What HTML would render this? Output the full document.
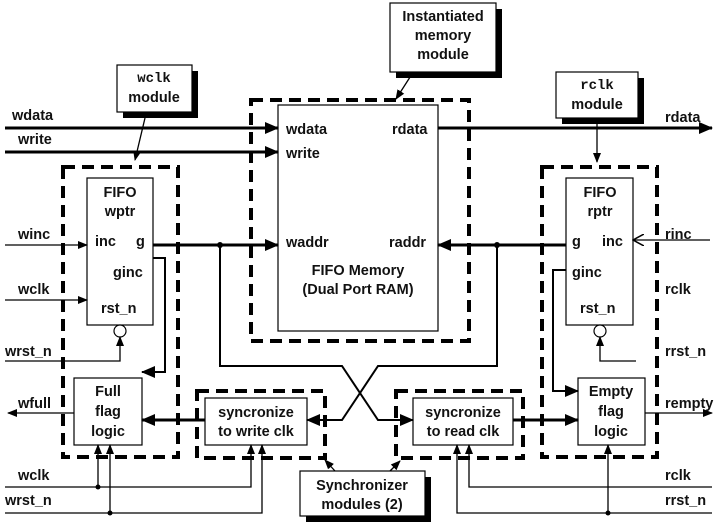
<!DOCTYPE html>
<html><head><meta charset="utf-8"><style>
html,body{margin:0;padding:0;background:#fff}
svg{display:block}
text{font-family:"Liberation Sans",Arial,sans-serif;font-weight:bold;font-size:14.5px;fill:#111}
.m{font-family:"Liberation Mono",monospace;font-weight:bold;font-size:14px}
</style></head><body>
<svg width="720" height="530" viewBox="0 0 720 530" xmlns="http://www.w3.org/2000/svg">
<defs>
<marker id="a" markerWidth="10" markerHeight="10" refX="9" refY="5" orient="auto" markerUnits="userSpaceOnUse"><path d="M0,1 L10,5 L0,9 z" fill="#000"/></marker>
<marker id="b" markerWidth="14" markerHeight="12" refX="13" refY="6" orient="auto" markerUnits="userSpaceOnUse"><path d="M0,0 L14,6 L0,12 z" fill="#000"/></marker>
<marker id="o" markerWidth="12" markerHeight="12" refX="11" refY="6" orient="auto" markerUnits="userSpaceOnUse"><path d="M0,0 L11,6 L0,12" fill="none" stroke="#000" stroke-width="1.5"/></marker>
</defs>
<g fill="none" stroke="#000">
<g stroke-width="4" stroke-dasharray="12,7">
<rect x="251" y="100" width="218" height="241"/>
<rect x="63" y="167" width="115" height="290"/>
<rect x="542" y="167" width="115" height="290"/>
<rect x="197" y="391" width="128" height="67"/>
<rect x="396" y="391" width="127" height="67"/>
</g>
<g fill="#000" stroke="none">
<rect x="123" y="71" width="75" height="47"/>
<rect x="396" y="9" width="106" height="69"/>
<rect x="562" y="78" width="82" height="46"/>
<rect x="306" y="477" width="125" height="45"/>
</g>
<g fill="#fff" stroke-width="1.2">
<rect x="117" y="65" width="75" height="47"/>
<rect x="390" y="3" width="106" height="69"/>
<rect x="556" y="72" width="82" height="46"/>
<rect x="300" y="471" width="125" height="45"/>
<rect x="278" y="105" width="160" height="226"/>
<rect x="87" y="178" width="66" height="147"/>
<rect x="566" y="178" width="67" height="147"/>
<rect x="74" y="378" width="68" height="67"/>
<rect x="578" y="378" width="67" height="67"/>
<rect x="205" y="398" width="102" height="47"/>
<rect x="413" y="398" width="100" height="47"/>
</g>
<circle cx="120" cy="331" r="6" fill="#fff" stroke-width="1.2"/>
<circle cx="600" cy="331" r="6" fill="#fff" stroke-width="1.2"/>
<g stroke-width="3">
<line x1="5" y1="128" x2="278" y2="128" marker-end="url(#b)"/>
<line x1="5" y1="152" x2="278" y2="152" marker-end="url(#b)"/>
<line x1="438" y1="128" x2="712" y2="128" marker-end="url(#b)"/>
<line x1="153" y1="245" x2="278" y2="245" marker-end="url(#b)"/>
<line x1="566" y1="245" x2="438" y2="245" marker-end="url(#b)"/>
<line x1="205" y1="420" x2="142" y2="420" marker-end="url(#b)"/>
<line x1="513" y1="420" x2="578" y2="420" marker-end="url(#b)"/>
</g>
<g stroke-width="2">
<polyline points="220,245 220,366 342,366 378,420 413,420" marker-end="url(#b)"/>
<polyline points="497,245 497,366 378,366 342,420 307,420" marker-end="url(#b)"/>
<polyline points="153,258 165,258 165,372 142,372" marker-end="url(#b)"/>
<polyline points="566,270 553,270 553,391 578,391" marker-end="url(#b)"/>
</g>
<g stroke-width="1.3">
<line x1="5" y1="245" x2="87" y2="245" marker-end="url(#a)"/>
<line x1="5" y1="300" x2="87" y2="300" marker-end="url(#a)"/>
<polyline points="5,361 120,361 120,337" marker-end="url(#a)"/>
<line x1="74" y1="413" x2="8" y2="413" marker-end="url(#a)"/>
<line x1="710" y1="240" x2="633" y2="240" marker-end="url(#o)"/>
<polyline points="636,361 600,361 600,337" marker-end="url(#a)"/>
<line x1="645" y1="413" x2="712" y2="413" marker-end="url(#a)"/>
<polyline points="5,487 251,487 251,445" marker-end="url(#a)"/>
<polyline points="5,513 262,513 262,445" marker-end="url(#a)"/>
<line x1="98" y1="487" x2="98" y2="445" marker-end="url(#a)"/>
<line x1="110" y1="513" x2="110" y2="445" marker-end="url(#a)"/>
<polyline points="712,487 469,487 469,445" marker-end="url(#a)"/>
<polyline points="712,513 457,513 457,445" marker-end="url(#a)"/>
<line x1="608" y1="513" x2="608" y2="445" marker-end="url(#a)"/>
<line x1="145" y1="118" x2="135" y2="160" marker-end="url(#a)"/>
<line x1="412" y1="74" x2="396" y2="99" marker-end="url(#a)"/>
<line x1="597" y1="124" x2="597" y2="162" marker-end="url(#a)"/>
<line x1="335" y1="471" x2="325" y2="460" marker-end="url(#a)"/>
<line x1="390" y1="471" x2="400" y2="461" marker-end="url(#a)"/>
</g>
<g fill="#000" stroke="none">
<circle cx="220" cy="245" r="3"/><circle cx="497" cy="245" r="3"/>
<circle cx="98" cy="487" r="2.5"/><circle cx="110" cy="513" r="2.5"/>
<circle cx="608" cy="513" r="2.5"/>
</g>
</g>
<text x="12" y="120">wdata</text>
<text x="18" y="144">write</text>
<text x="665" y="122">rdata</text>
<text x="154" y="82" class="m" text-anchor="middle">wclk</text>
<text x="154" y="102" text-anchor="middle">module</text>
<text x="597" y="89" class="m" text-anchor="middle">rclk</text>
<text x="597" y="109" text-anchor="middle">module</text>
<text x="443" y="21" text-anchor="middle">Instantiated</text>
<text x="443" y="40" text-anchor="middle">memory</text>
<text x="443" y="59" text-anchor="middle">module</text>
<text x="286" y="134">wdata</text>
<text x="392" y="134">rdata</text>
<text x="286" y="158">write</text>
<text x="286" y="247">waddr</text>
<text x="389" y="247">raddr</text>
<text x="358" y="275" text-anchor="middle">FIFO Memory</text>
<text x="358" y="294" text-anchor="middle">(Dual Port RAM)</text>
<text x="120" y="197" text-anchor="middle">FIFO</text>
<text x="120" y="216" text-anchor="middle">wptr</text>
<text x="95" y="246">inc</text>
<text x="136" y="246">g</text>
<text x="113" y="277">ginc</text>
<text x="101" y="313">rst_n</text>
<text x="600" y="197" text-anchor="middle">FIFO</text>
<text x="600" y="216" text-anchor="middle">rptr</text>
<text x="572" y="246">g</text>
<text x="602" y="246">inc</text>
<text x="572" y="277">ginc</text>
<text x="580" y="313">rst_n</text>
<text x="18" y="239">winc</text>
<text x="18" y="294">wclk</text>
<text x="5" y="356">wrst_n</text>
<text x="18" y="408">wfull</text>
<text x="18" y="480">wclk</text>
<text x="5" y="505">wrst_n</text>
<text x="665" y="239">rinc</text>
<text x="665" y="294">rclk</text>
<text x="665" y="356">rrst_n</text>
<text x="665" y="408">rempty</text>
<text x="665" y="480">rclk</text>
<text x="665" y="505">rrst_n</text>
<text x="108" y="396" text-anchor="middle">Full</text>
<text x="108" y="416" text-anchor="middle">flag</text>
<text x="108" y="436" text-anchor="middle">logic</text>
<text x="611" y="396" text-anchor="middle">Empty</text>
<text x="611" y="416" text-anchor="middle">flag</text>
<text x="611" y="436" text-anchor="middle">logic</text>
<text x="256" y="417" text-anchor="middle">syncronize</text>
<text x="256" y="436" text-anchor="middle">to write clk</text>
<text x="463" y="417" text-anchor="middle">syncronize</text>
<text x="463" y="436" text-anchor="middle">to read clk</text>
<text x="362" y="490" text-anchor="middle">Synchronizer</text>
<text x="362" y="509" text-anchor="middle">modules (2)</text>
</svg>
</body></html>
